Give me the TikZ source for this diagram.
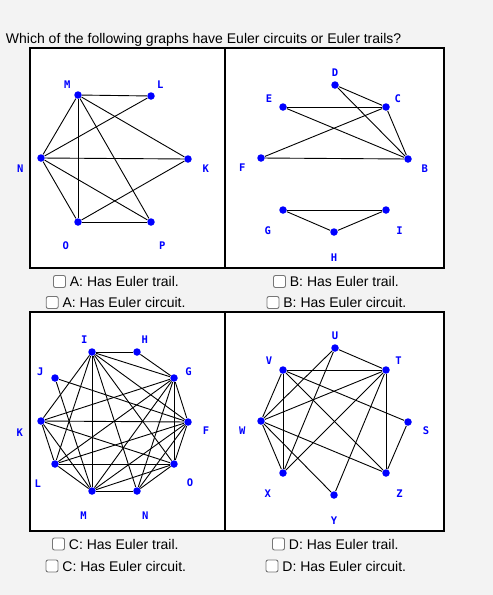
\documentclass[tikz,border=0pt]{standalone}
\usepackage{fontspec}
\setmainfont{Liberation Sans}
\newfontfamily\vlabelfont{DejaVu Sans Mono}
\usetikzlibrary{positioning}
\definecolor{pagegray}{HTML}{F3F3F3}
\definecolor{vblue}{RGB}{0,0,255}
\definecolor{boxgray}{HTML}{767676}
\tikzset{
  vtx/.style={circle, fill=vblue, inner sep=0pt, minimum size=7.5pt},
  vlbl/.style={text=vblue, inner sep=0pt, font=\vlabelfont\bfseries\fontsize{10.5}{10.5}\selectfont},
  panel/.style={draw=black, line width=1.4pt, fill=white},
  chk/.style={draw=boxgray, fill=white, rounded corners=2pt, minimum size=12pt, inner sep=0pt, line width=0.9pt},
  opt/.style={inner sep=0pt, font=\fontsize{14}{16}\selectfont}
}
\begin{document}
\begin{tikzpicture}[x=1pt, y=-1pt, line width=0.9pt, every label/.style={vlbl}]
\useasboundingbox[fill=pagegray] (0,0) rectangle (493,595);
\node[anchor=base west, opt] (title) at (5.5,43) {Which of the following graphs have Euler circuits or Euler trails?};
\draw[panel] (30,48) rectangle (225,268);
\draw[panel] (225,48) rectangle (444,268);
\draw[panel] (30,312) rectangle (225,531);
\draw[panel] (225,312) rectangle (444,531);

% graph A
\node[vtx, label={[label distance=5pt]141:M}] (aM) at (78,95) {};
\node[vtx, label={[label distance=5pt]51:L}] (aL) at (151,96) {};
\node[vtx, label={[label distance=14pt]201:N}] (aN) at (41,158) {};
\node[vtx, label={[label distance=11pt]-21:K}] (aK) at (188,159) {};
\node[vtx, label={[label distance=17pt]246:O}] (aO) at (78,222) {};
\node[vtx, label={[label distance=17pt]-69:P}] (aP) at (151,222) {};
\draw (aM) -- (aL);
\draw (aM) -- (aN);
\draw (aM) -- (aK);
\draw (aM) -- (aO);
\draw (aM) -- (aP);
\draw (aN) -- (aL);
\draw (aN) -- (aK);
\draw (aN) -- (aO);
\draw (aN) -- (aP);
\draw (aO) -- (aK);
\draw (aO) -- (aP);

% graph B
\node[vtx, label={[label distance=4pt]90:D}] (bD) at (335,85) {};
\node[vtx, label={[label distance=7pt]157:E}] (bE) at (283,107) {};
\node[vtx, label={[label distance=5pt]27:C}] (bC) at (386,107) {};
\node[vtx, label={[label distance=12pt]200:F}] (bF) at (261,158) {};
\node[vtx, label={[label distance=10pt]-22:B}] (bB) at (408,159) {};
\node[vtx, label={[label distance=16pt]235:G}] (bG) at (283,210) {};
\node[vtx, label={[label distance=15pt]-59:I}] (bI) at (386,210) {};
\node[vtx, label={[label distance=17pt]-90:H}] (bH) at (334,232) {};
\draw (bD) -- (bC);
\draw (bD) -- (bB);
\draw (bE) -- (bC);
\draw (bE) -- (bB);
\draw (bF) -- (bC);
\draw (bF) -- (bB);
\draw (bC) -- (bB);
\draw (bG) -- (bI);
\draw (bG) -- (bH);
\draw (bH) -- (bI);

% graph C
\node[vtx, label={[label distance=4.5pt]119:I}] (cI) at (92,352) {};
\node[vtx, label={[label distance=4.5pt]61:H}] (cH) at (137,352) {};
\node[vtx, label={[label distance=7pt]11:G}] (cG) at (174,378) {};
\node[vtx, label={[label distance=7pt]169:J}] (cJ) at (55,378) {};
\node[vtx, label={[label distance=15pt]203:K}] (cK) at (41,421) {};
\node[vtx, label={[label distance=11pt]-18:F}] (cF) at (188,422) {};
\node[vtx, label={[label distance=16pt]228:L}] (cL) at (55,464) {};
\node[vtx, label={[label distance=15pt]-50:O}] (cO) at (174,464) {};
\node[vtx, label={[label distance=17pt]257:M}] (cM) at (92,491) {};
\node[vtx, label={[label distance=17pt]-77:N}] (cN) at (137,491) {};
\draw (cI) -- (cH);
\draw (cI) -- (cG);
\draw (cI) -- (cF);
\draw (cI) -- (cO);
\draw (cI) -- (cN);
\draw (cI) -- (cM);
\draw (cI) -- (cL);
\draw (cI) -- (cK);
\draw (cH) -- (cG);
\draw (cG) -- (cF);
\draw (cG) -- (cO);
\draw (cG) -- (cN);
\draw (cG) -- (cM);
\draw (cG) -- (cL);
\draw (cG) -- (cK);
\draw (cJ) -- (cF);
\draw (cJ) -- (cM);
\draw (cF) -- (cK);
\draw (cF) -- (cL);
\draw (cF) -- (cM);
\draw (cF) -- (cN);
\draw (cF) -- (cO);
\draw (cK) -- (cL);
\draw (cK) -- (cM);
\draw (cK) -- (cO);
\draw (cL) -- (cM);
\draw (cL) -- (cO);
\draw (cM) -- (cN);
\draw (cM) -- (cO);
\draw (cN) -- (cO);

% graph D
\node[vtx, label={[label distance=4pt]90:U}] (dU) at (335,348) {};
\node[vtx, label={[label distance=7.5pt]153:V}] (dV) at (283,370) {};
\node[vtx, label={[label distance=6pt]30:T}] (dT) at (386,370) {};
\node[vtx, label={[label distance=12pt]200:W}] (dW) at (261,421) {};
\node[vtx, label={[label distance=11pt]-18:S}] (dS) at (408,422) {};
\node[vtx, label={[label distance=16pt]235:X}] (dX) at (283,473) {};
\node[vtx, label={[label distance=15pt]-59:Z}] (dZ) at (386,473) {};
\node[vtx, label={[label distance=17pt]-90:Y}] (dY) at (334,495) {};
\draw (dU) -- (dT);
\draw (dU) -- (dW);
\draw (dU) -- (dX);
\draw (dV) -- (dT);
\draw (dV) -- (dW);
\draw (dV) -- (dX);
\draw (dV) -- (dS);
\draw (dV) -- (dZ);
\draw (dW) -- (dT);
\draw (dW) -- (dZ);
\draw (dW) -- (dX);
\draw (dW) -- (dY);
\draw (dT) -- (dX);
\draw (dT) -- (dY);
\draw (dT) -- (dZ);
\draw (dS) -- (dZ);

% answer boxes
\node[chk] (aTrailBox) at (59.5,281.5) {};
\node[opt, right=3.5pt of aTrailBox] (aTrail) {A: Has Euler trail.};
\node[chk] (aCircBox) at (52.2,302.5) {};
\node[opt, right=3.5pt of aCircBox] (aCirc) {A: Has Euler circuit.};
\node[chk] (bTrailBox) at (279.5,281.5) {};
\node[opt, right=3.5pt of bTrailBox] (bTrail) {B: Has Euler trail.};
\node[chk] (bCircBox) at (273,302.5) {};
\node[opt, right=3.5pt of bCircBox] (bCirc) {B: Has Euler circuit.};
\node[chk] (cTrailBox) at (58.5,544) {};
\node[opt, right=3.5pt of cTrailBox] (cTrail) {C: Has Euler trail.};
\node[chk] (cCircBox) at (52,566) {};
\node[opt, right=3.5pt of cCircBox] (cCirc) {C: Has Euler circuit.};
\node[chk] (dTrailBox) at (278.5,544) {};
\node[opt, right=3.5pt of dTrailBox] (dTrail) {D: Has Euler trail.};
\node[chk] (dCircBox) at (272,566) {};
\node[opt, right=3.5pt of dCircBox] (dCirc) {D: Has Euler circuit.};
\end{tikzpicture}
\end{document}
